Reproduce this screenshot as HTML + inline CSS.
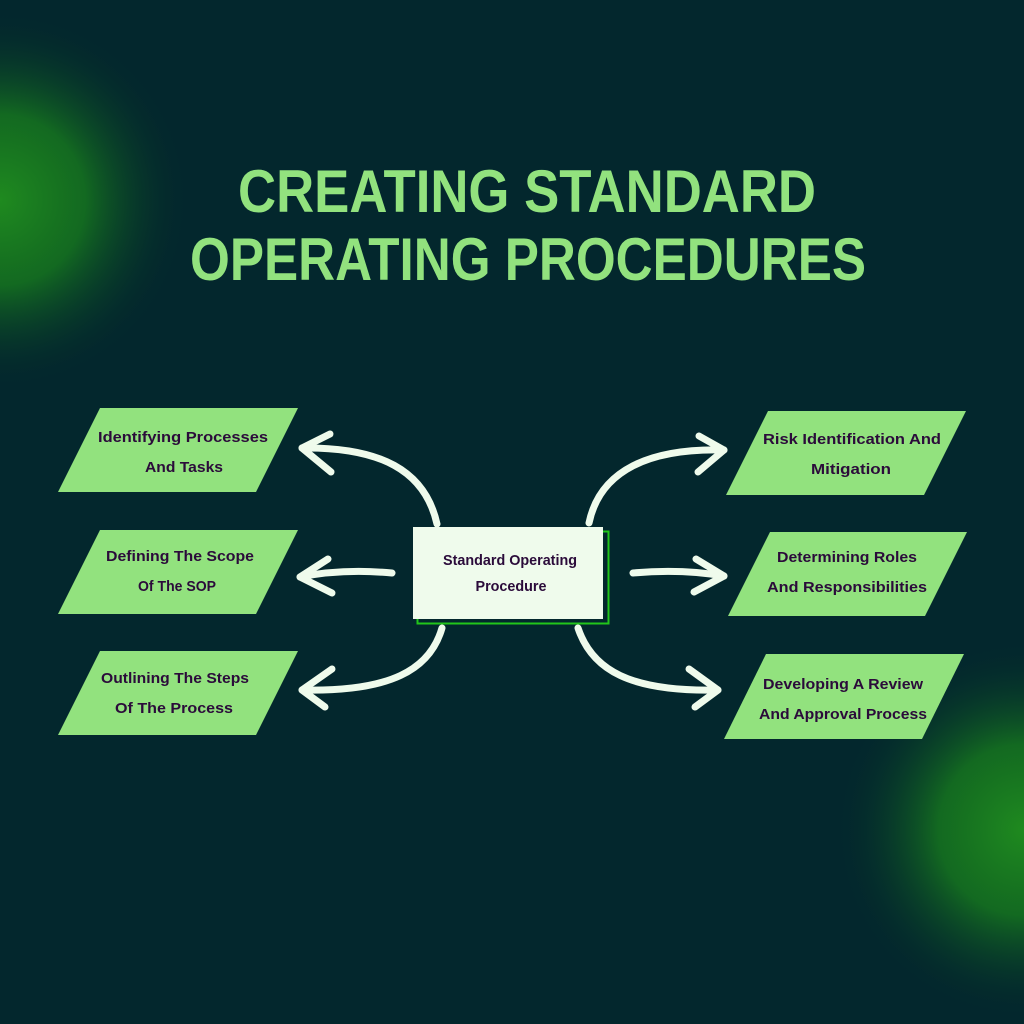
<!DOCTYPE html>
<html><head><meta charset="utf-8"><style>
html,body{margin:0;padding:0;background:#03272d;}
svg{display:block}
</style></head><body>
<svg width="1024" height="1024" viewBox="0 0 1024 1024" xmlns="http://www.w3.org/2000/svg">
<defs>
<radialGradient id="g1" cx="0" cy="200" r="190" gradientUnits="userSpaceOnUse">
<stop offset="0" stop-color="#1f8a1f"/><stop offset="0.45" stop-color="#177a1e" stop-opacity="0.8"/><stop offset="1" stop-color="#03272d" stop-opacity="0"/></radialGradient>
<radialGradient id="g2" cx="1024" cy="830" r="190" gradientUnits="userSpaceOnUse">
<stop offset="0" stop-color="#1f8a1f"/><stop offset="0.45" stop-color="#177a1e" stop-opacity="0.8"/><stop offset="1" stop-color="#03272d" stop-opacity="0"/></radialGradient>
</defs>
<rect width="1024" height="1024" fill="#03272d"/>
<rect width="1024" height="1024" fill="url(#g1)"/>
<rect width="1024" height="1024" fill="url(#g2)"/>
<g font-family="Liberation Sans, sans-serif" font-weight="bold" fill="#92e27e" font-size="60">
<text x="238" y="212" textLength="578" lengthAdjust="spacingAndGlyphs">CREATING STANDARD</text>
<text x="190" y="280" textLength="676" lengthAdjust="spacingAndGlyphs">OPERATING PROCEDURES</text>
</g>
<g fill="#92e27e">
<polygon points="100,408 298,408 256,492 58,492"/>
<polygon points="100,530 298,530 256,614 58,614"/>
<polygon points="100,651 298,651 256,735 58,735"/>
<polygon points="768,411 966,411 924,495 726,495"/>
<polygon points="770,532 967,532 925,616 728,616"/>
<polygon points="766,654 964,654 922,739 724,739"/>
</g>
<rect x="417.5" y="531.5" width="191" height="92" fill="none" stroke="#22c51a" stroke-width="2"/>
<rect x="413" y="527" width="190" height="92" fill="#effbec"/>
<g font-family="Liberation Sans, sans-serif" font-weight="bold" fill="#2b0b3a" font-size="15" text-anchor="middle" lengthAdjust="spacingAndGlyphs">
<text x="510" y="565" textLength="134" lengthAdjust="spacingAndGlyphs">Standard Operating</text>
<text x="511" y="591" textLength="71" lengthAdjust="spacingAndGlyphs">Procedure</text>
<text x="183" y="442" textLength="170" lengthAdjust="spacingAndGlyphs">Identifying Processes</text>
<text x="184" y="472" textLength="78" lengthAdjust="spacingAndGlyphs">And Tasks</text>
<text x="180" y="561" textLength="148" lengthAdjust="spacingAndGlyphs">Defining The Scope</text>
<text x="177" y="591" textLength="78" lengthAdjust="spacingAndGlyphs">Of The SOP</text>
<text x="175" y="683" textLength="148" lengthAdjust="spacingAndGlyphs">Outlining The Steps</text>
<text x="174" y="713" textLength="118" lengthAdjust="spacingAndGlyphs">Of The Process</text>
<text x="852" y="444" textLength="178" lengthAdjust="spacingAndGlyphs">Risk Identification And</text>
<text x="851" y="474" textLength="80" lengthAdjust="spacingAndGlyphs">Mitigation</text>
<text x="847" y="562" textLength="140" lengthAdjust="spacingAndGlyphs">Determining Roles</text>
<text x="847" y="592" textLength="160" lengthAdjust="spacingAndGlyphs">And Responsibilities</text>
<text x="843" y="689" textLength="160" lengthAdjust="spacingAndGlyphs">Developing A Review</text>
<text x="843" y="719" textLength="168" lengthAdjust="spacingAndGlyphs">And Approval Process</text>
</g>
<g fill="none" stroke="#effbec" stroke-width="7" stroke-linecap="round" stroke-linejoin="round">
<path d="M437,524 C425,470 380,447 302,448"/>
<path d="M330,434 L302,448 L331,472"/>
<path d="M392,573 C360,570 330,571 300,577"/>
<path d="M328,559 L300,577 L332,593"/>
<path d="M442,628 C430,670 390,692 302,690"/>
<path d="M332,669 L302,690 L325,707"/>
<path d="M589,523 C600,470 650,448 724,450"/>
<path d="M699,436 L724,450 L698,472"/>
<path d="M633,573 C665,570 695,571 724,576"/>
<path d="M696,559 L724,576 L694,592"/>
<path d="M578,628 C592,670 630,692 718,690"/>
<path d="M689,669 L718,690 L695,707"/>
</g>
</svg>
</body></html>
